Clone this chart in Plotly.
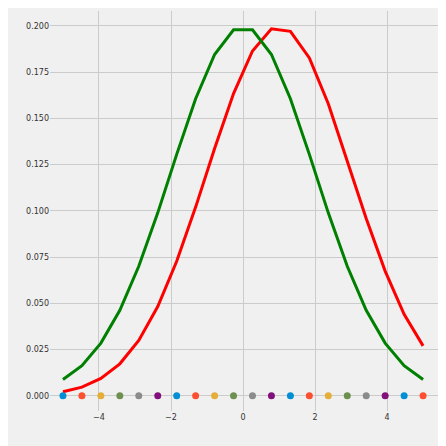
import plotly.graph_objects as go

x = [-5.0, -4.474, -3.947, -3.421, -2.895, -2.368, -1.842, -1.316, -0.789, -0.263,
     0.263, 0.789, 1.316, 1.842, 2.368, 2.895, 3.421, 3.947, 4.474, 5.0]
green = [0.0088, 0.0163, 0.0285, 0.0462, 0.0700, 0.0989, 0.1305, 0.1606, 0.1845, 0.1978,
         0.1978, 0.1845, 0.1606, 0.1305, 0.0989, 0.0700, 0.0462, 0.0285, 0.0163, 0.0088]
red = [0.0022, 0.0047, 0.0094, 0.0173, 0.0299, 0.0483, 0.0727, 0.1020, 0.1337, 0.1634,
       0.1864, 0.1984, 0.1970, 0.1826, 0.1579, 0.1273, 0.0959, 0.0674, 0.0441, 0.0270]
zeros = [0.0] * len(x)
cycle = ["#008fd5", "#fc4f30", "#e5ae38", "#6d904f", "#8b8b8b", "#810f7c"]
dot_colors = [cycle[i % len(cycle)] for i in range(len(x))]

fig = go.Figure()
fig.add_trace(go.Scatter(x=x, y=red, mode="lines", line=dict(color="red", width=3)))
fig.add_trace(go.Scatter(x=x, y=green, mode="lines", line=dict(color="green", width=3)))
fig.add_trace(go.Scatter(x=x, y=zeros, mode="markers",
                         marker=dict(color=dot_colors, size=7)))

axis = dict(showline=False, zeroline=False, gridcolor="#cbcbcb", gridwidth=1,
            tickfont=dict(family="DejaVu Sans", size=8, color="#333"), ticks="")
fig.update_layout(
    width=446, height=446, showlegend=False,
    paper_bgcolor="#f0f0f0", plot_bgcolor="#f0f0f0",
    margin=dict(l=42, r=14, t=3, b=43),
    xaxis=dict(axis, range=[-5.36, 5.47], tickvals=[-4, -2, 0, 2, 4]),
    yaxis=dict(axis, range=[-0.0082, 0.208], tickformat=".3f",
               tickvals=[0, 0.025, 0.05, 0.075, 0.1, 0.125, 0.15, 0.175, 0.2]),
)
fig.write_html("out.html")
